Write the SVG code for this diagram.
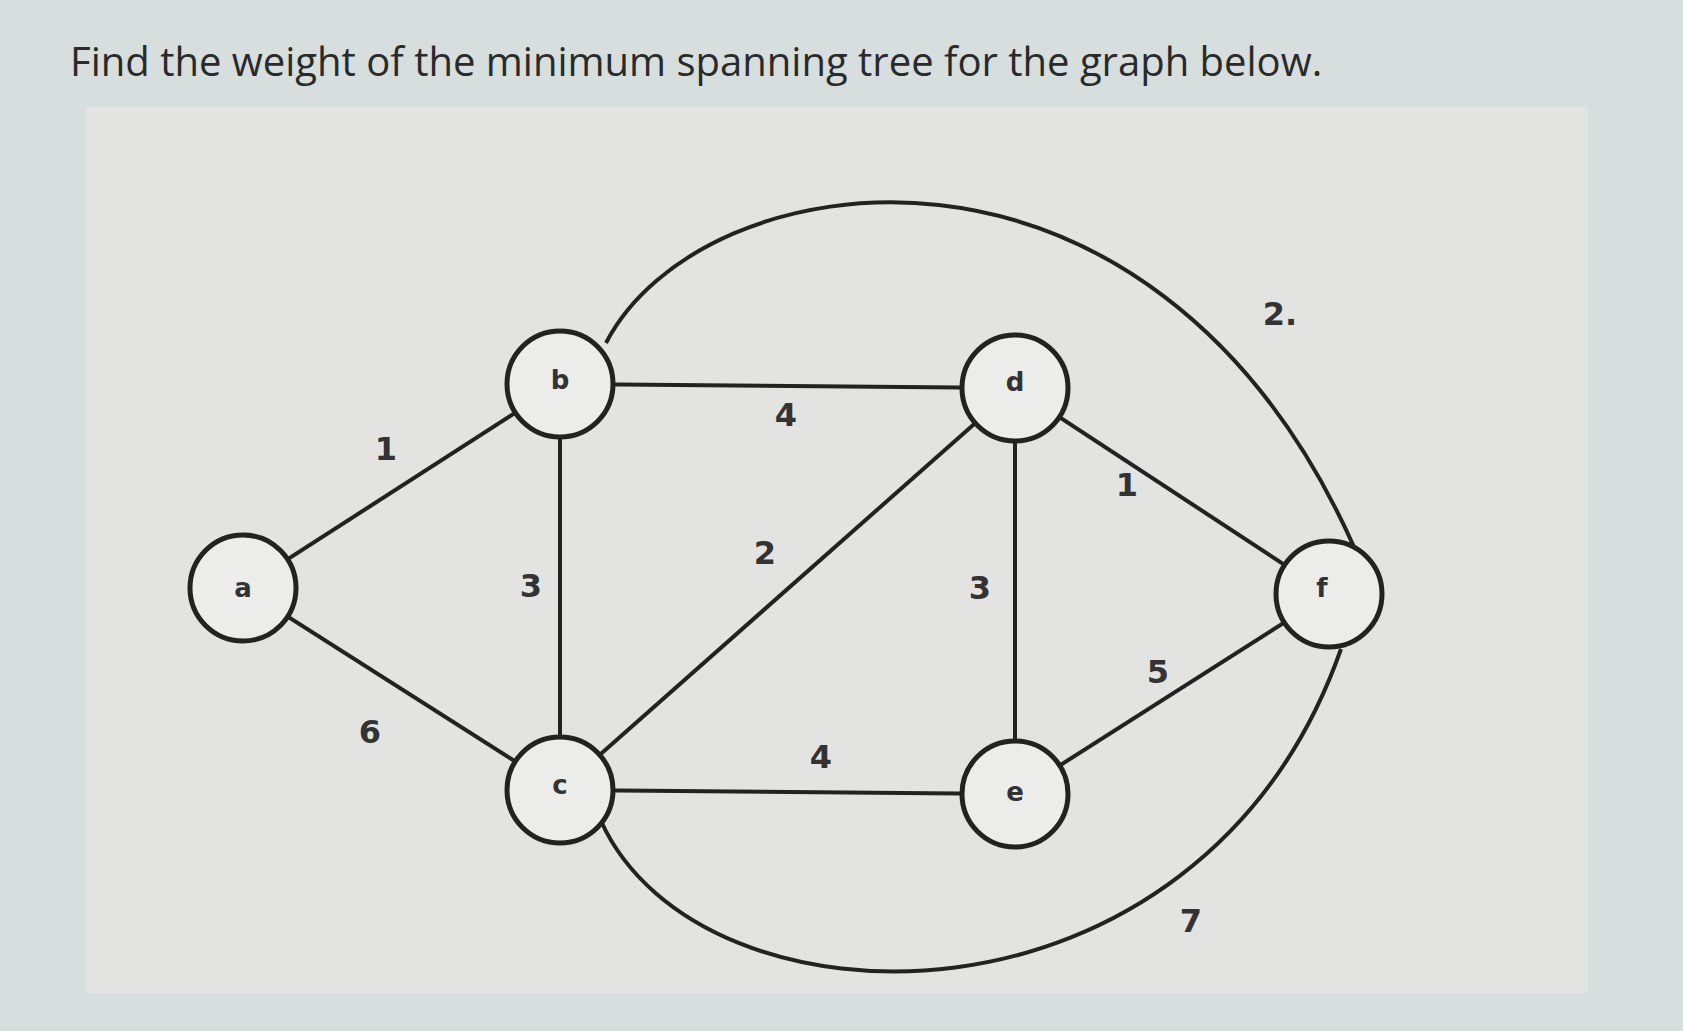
<svg xmlns="http://www.w3.org/2000/svg" width="1683" height="1031" viewBox="0 0 1683 1031">
<style>
.n{fill:#ececea;stroke:#222;stroke-width:5}
.nt{font-family:"DejaVu Sans",sans-serif;font-size:26px;font-weight:bold;fill:#333;text-anchor:middle;dominant-baseline:central}
.e{stroke:#222;stroke-width:4;fill:none}
.l{font-family:"DejaVu Sans",sans-serif;font-size:32px;font-weight:bold;fill:#333;text-anchor:middle;dominant-baseline:central}
</style>
<rect width="1683" height="1031" fill="#d6dfdd"/>
<rect x="86" y="107" width="1502" height="886" fill="#e3e4e2"/>
<text x="70" y="76" font-family="Open Sans, sans-serif" font-size="40" fill="#2a2a2a">Find the weight of the minimum spanning tree for the graph below.</text>
<g id="edges">
<line class="e" x1="243" y1="588" x2="560" y2="384"/>
<line class="e" x1="243" y1="588" x2="560" y2="790"/>
<line class="e" x1="560" y1="384" x2="1015" y2="388"/>
<line class="e" x1="560" y1="384" x2="560" y2="790"/>
<line class="e" x1="560" y1="790" x2="1015" y2="388"/>
<line class="e" x1="1015" y1="388" x2="1015" y2="794"/>
<line class="e" x1="1015" y1="388" x2="1329" y2="594"/>
<line class="e" x1="560" y1="790" x2="1015" y2="794"/>
<line class="e" x1="1015" y1="794" x2="1329" y2="594"/>
<path class="e" d="M606,343 C700,160 1150,90 1354,547"/>
<path class="e" d="M601,821 C700,1040 1200,1050 1341,649"/>
</g>
<g id="labels">
<text class="l" x="386" y="449">1</text>
<text class="l" x="370" y="732">6</text>
<text class="l" x="786" y="415">4</text>
<text class="l" x="531" y="586">3</text>
<text class="l" x="765" y="553">2</text>
<text class="l" x="980" y="588">3</text>
<text class="l" x="1127" y="485">1</text>
<text class="l" x="1158" y="672">5</text>
<text class="l" x="821" y="757">4</text>
<text class="l" x="1191" y="921">7</text>
<text class="l" x="1280" y="314">2.</text>
</g>
<g id="node-a"><circle class="n" cx="243" cy="588" r="53"/><text class="nt" x="243" y="588">a</text></g>
<g id="node-b"><circle class="n" cx="560" cy="384" r="53"/><text class="nt" x="560" y="380">b</text></g>
<g id="node-c"><circle class="n" cx="560" cy="790" r="53"/><text class="nt" x="560" y="785">c</text></g>
<g id="node-d"><circle class="n" cx="1015" cy="388" r="53"/><text class="nt" x="1015" y="382">d</text></g>
<g id="node-e"><circle class="n" cx="1015" cy="794" r="53"/><text class="nt" x="1015" y="792">e</text></g>
<g id="node-f"><circle class="n" cx="1329" cy="594" r="53"/><text class="nt" x="1322" y="588">f</text></g>
</svg>
